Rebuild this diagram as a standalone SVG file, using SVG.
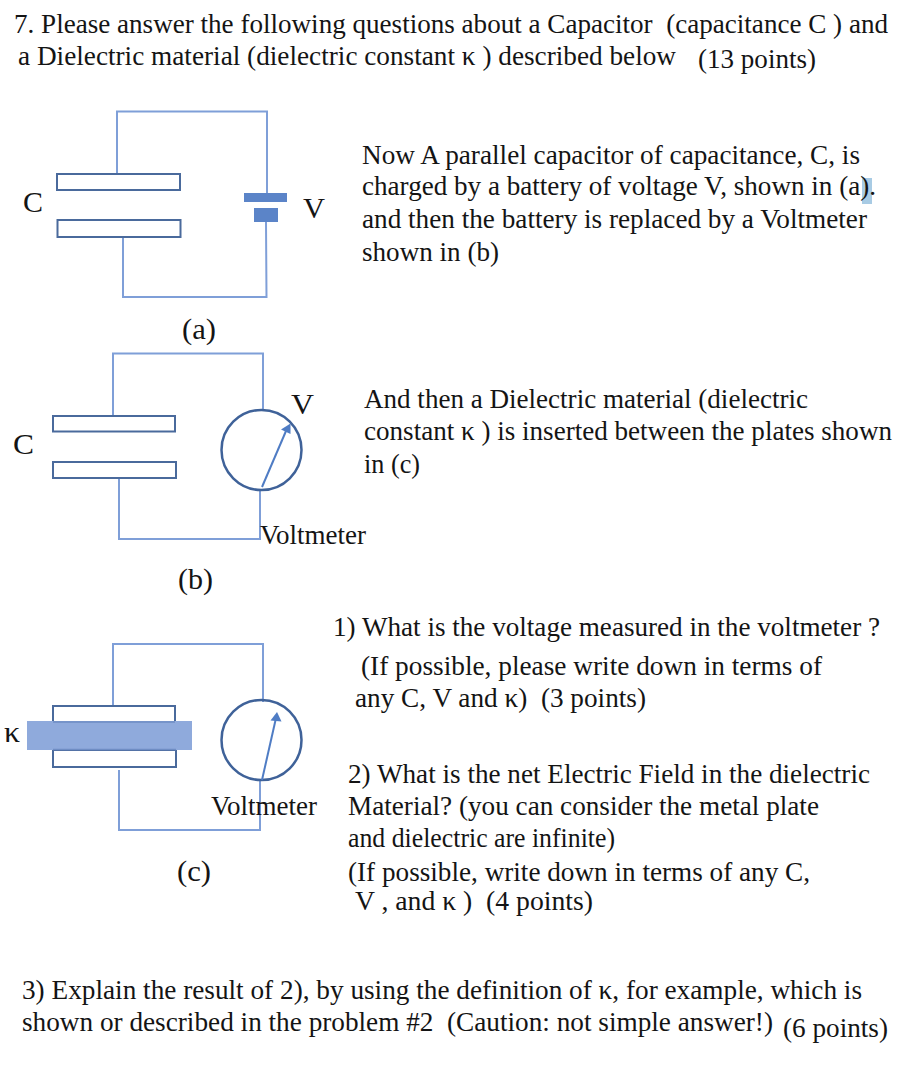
<svg xmlns="http://www.w3.org/2000/svg" width="902" height="1086" viewBox="0 0 902 1086">
<style>
text{font-family:"Liberation Serif","Times New Roman",serif;font-size:27.5px;fill:#141414;white-space:pre}
.l{font-size:30px}
.w{fill:none;stroke:#7f9fd8;stroke-width:2}
.p{fill:#fff;stroke:#4a6a9c;stroke-width:2}
.m{fill:none;stroke:#3f6299;stroke-width:2.500}
.n{stroke:#4f7cc4;stroke-width:2}
.a{fill:#4f7cc4}
.b{fill:#5b84c8}
</style>
<rect width="902" height="1086" fill="#fff"/>
<g id="heading">
<text x="14" y="33" textLength="874" lengthAdjust="spacingAndGlyphs">7. Please answer the following questions about a Capacitor  (capacitance C ) and</text>
<text x="18" y="65" textLength="658" lengthAdjust="spacingAndGlyphs">a Dielectric material (dielectric constant κ ) described below</text>
<text x="698" y="68" textLength="118" lengthAdjust="spacingAndGlyphs">(13 points)</text>
</g>
<g id="connectors">
<path class="w" d="M117 174V111.500H267V193"/>
<path class="w" d="M266 222L266.500 297H123V237"/>
<path class="w" d="M113 416V353.500H263V411"/>
<path class="w" d="M119 478V539H260V490"/>
<path class="w" d="M113 706V644H263V702"/>
<path class="w" d="M119 770V830H260V780"/>
</g>
<g id="circuit-a">
<rect class="p" x="57" y="174" width="123" height="16"/>
<rect class="p" x="57.500" y="220" width="123" height="17"/>
<rect class="b" x="244" y="193" width="43" height="9"/>
<rect class="b" x="254" y="208" width="24" height="14"/>
<text class="l" x="23" y="212" textLength="20" lengthAdjust="spacingAndGlyphs">C</text>
<text class="l" x="303" y="218" textLength="22" lengthAdjust="spacingAndGlyphs">V</text>
<text class="l" x="182" y="339" textLength="34" lengthAdjust="spacingAndGlyphs">(a)</text>
</g>
<g id="circuit-b">
<rect class="p" x="53" y="416" width="122" height="15.500"/>
<rect class="p" x="53" y="462" width="123" height="16"/>
<circle class="m" cx="261.500" cy="450" r="40"/>
<line class="n" x1="262" y1="487" x2="286" y2="431"/>
<path class="a" d="M290.500 423.500L290.500 434L281 429.500Z"/>
<text class="l" x="291" y="414" textLength="23" lengthAdjust="spacingAndGlyphs">V</text>
<text class="l" x="13" y="454" textLength="21" lengthAdjust="spacingAndGlyphs">C</text>
<text x="260" y="544" textLength="106" lengthAdjust="spacingAndGlyphs">Voltmeter</text>
<text class="l" x="178" y="589" textLength="35" lengthAdjust="spacingAndGlyphs">(b)</text>
</g>
<g id="circuit-c">
<rect class="p" x="53" y="706" width="122" height="16"/>
<rect class="p" x="53" y="750" width="123" height="17"/>
<rect x="27" y="721" width="165" height="29" fill="#8faadc"/>
<path d="M53 722H175M53 749.500H176" fill="none" stroke="#6f8dc4" stroke-width="1.500"/>
<circle class="m" cx="261.500" cy="740" r="40"/>
<line class="n" x1="262" y1="780" x2="276" y2="718"/>
<path class="a" d="M277 712L281.500 721.500L270.500 720.500Z"/>
<text class="l" x="4" y="742" textLength="16" lengthAdjust="spacingAndGlyphs">κ</text>
<text x="211" y="815" textLength="106" lengthAdjust="spacingAndGlyphs">Voltmeter</text>
<text class="l" x="177" y="881" textLength="34" lengthAdjust="spacingAndGlyphs">(c)</text>
</g>
<g id="description">
<rect x="862" y="178" width="10" height="26" fill="#a8cbe4"/>
<text x="362" y="163.500" textLength="498" lengthAdjust="spacingAndGlyphs">Now A parallel capacitor of capacitance, C, is</text>
<text x="362" y="195" textLength="514" lengthAdjust="spacingAndGlyphs">charged by a battery of voltage V, shown in (a).</text>
<text x="362" y="228" textLength="505" lengthAdjust="spacingAndGlyphs">and then the battery is replaced by a Voltmeter</text>
<text x="362" y="261" textLength="137" lengthAdjust="spacingAndGlyphs">shown in (b)</text>
<text x="364" y="408" textLength="444" lengthAdjust="spacingAndGlyphs">And then a Dielectric material (dielectric</text>
<text x="364" y="440" textLength="528" lengthAdjust="spacingAndGlyphs">constant κ ) is inserted between the plates shown</text>
<text x="364" y="473" textLength="56" lengthAdjust="spacingAndGlyphs">in (c)</text>
</g>
<g id="question-1">
<text x="333" y="636" textLength="547" lengthAdjust="spacingAndGlyphs">1) What is the voltage measured in the voltmeter ?</text>
<text x="361" y="675" textLength="461" lengthAdjust="spacingAndGlyphs">(If possible, please write down in terms of</text>
<text x="355" y="707" textLength="291" lengthAdjust="spacingAndGlyphs">any C, V and κ)  (3 points)</text>
</g>
<g id="question-2">
<text x="348" y="783" textLength="522" lengthAdjust="spacingAndGlyphs">2) What is the net Electric Field in the dielectric</text>
<text x="348" y="815" textLength="471" lengthAdjust="spacingAndGlyphs">Material? (you can consider the metal plate</text>
<text x="348" y="847" textLength="267" lengthAdjust="spacingAndGlyphs">and dielectric are infinite)</text>
<text x="348" y="881" textLength="462" lengthAdjust="spacingAndGlyphs">(If possible, write down in terms of any C,</text>
<text x="355" y="910" textLength="238" lengthAdjust="spacingAndGlyphs">V , and κ )  (4 points)</text>
</g>
<g id="question-3">
<text x="22" y="998.500" textLength="840" lengthAdjust="spacingAndGlyphs">3) Explain the result of 2), by using the definition of κ, for example, which is</text>
<text x="22" y="1031" textLength="751" lengthAdjust="spacingAndGlyphs">shown or described in the problem #2  (Caution: not simple answer!)</text>
<text x="783" y="1036.500" textLength="105" lengthAdjust="spacingAndGlyphs">(6 points)</text>
</g>
</svg>
